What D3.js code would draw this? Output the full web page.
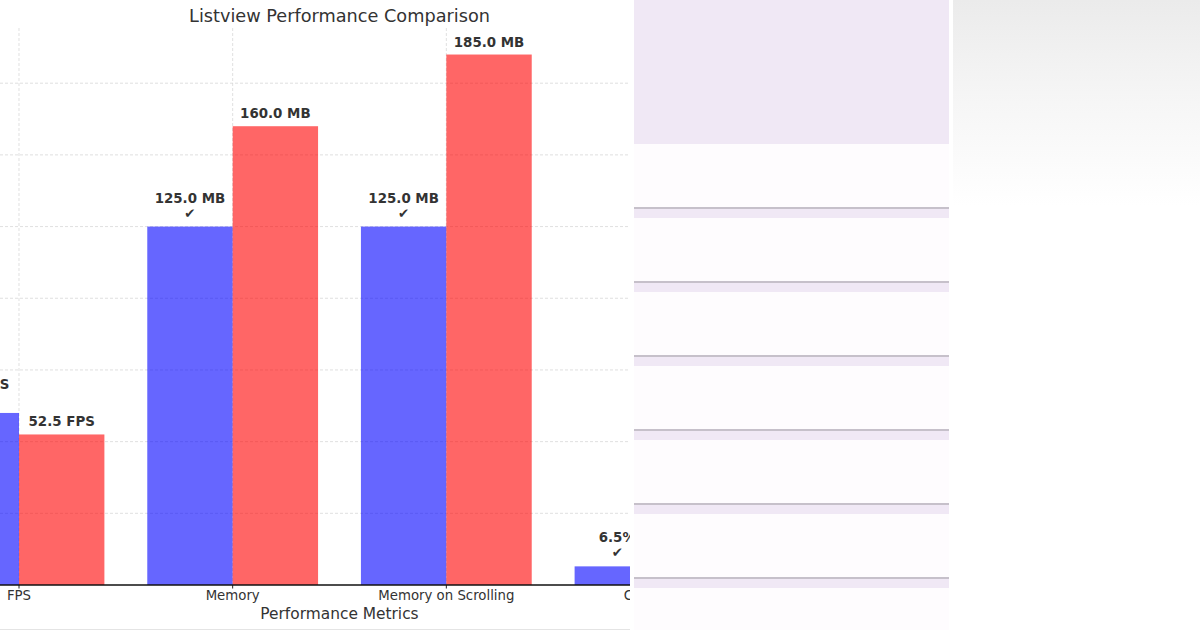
<!DOCTYPE html>
<html>
<head>
<meta charset="utf-8">
<script src="https://cdn.jsdelivr.net/npm/d3@7"></script>
<style>
  html, body { margin: 0; padding: 0; background: #fff; }
  svg { display: block; font-family: "DejaVu Sans", sans-serif; }
</style>
</head>
<body>
<svg id="chart"></svg>
<script>
const categories = ["FPS", "Memory", "Memory on Scrolling", "CPU Usage"];
// 4th red bar sits behind the panel, so it has no readable value
const blueValues = [60, 125, 125, 6.5];
const redValues = [52.5, 160, 185, null];
const blueLabels = ["60.0 FPS", "125.0 MB", "125.0 MB", "6.5%"];
const redLabels = ["52.5 FPS", "160.0 MB", "185.0 MB", ""];
const yTicks = [0, 25, 50, 75, 100, 125, 150, 175];
const listRows = [0, 1, 2, 3, 4, 5];

const width = 1200;
const height = 630;
const chartRight = 630;
const barWidth = 85.4;
const textColor = "#333333";

const svg = d3.select("#chart").attr("width", width).attr("height", height);

const defs = svg.append("defs");
defs.append("clipPath")
  .attr("id", "chart-area")
  .append("rect")
  .attr("width", chartRight)
  .attr("height", height);

const fade = defs.append("linearGradient")
  .attr("id", "fade")
  .attr("x1", 0).attr("x2", 0).attr("y1", 0).attr("y2", 1);
fade.append("stop").attr("offset", "0%").attr("stop-color", "#ebebeb");
fade.append("stop").attr("offset", "45%").attr("stop-color", "#f5f5f5");
fade.append("stop").attr("offset", "100%").attr("stop-color", "#ffffff");

const x = d3.scalePoint().domain(categories).range([19, 660]);
const y = d3.scaleLinear().domain([0, 194.25]).range([585, 28]);

const chart = svg.append("g").attr("clip-path", "url(#chart-area)");

// Grid goes first, the bars are translucent so it shows through them
chart.selectAll(".grid-y")
  .data(yTicks.slice(1))
  .enter()
  .append("line")
  .attr("class", "grid-y")
  .attr("x1", 0)
  .attr("x2", chartRight)
  .attr("y1", (d) => y(d))
  .attr("y2", (d) => y(d))
  .attr("stroke", "#d2d2d2")
  .attr("stroke-dasharray", "3,2")
  .attr("stroke-width", 0.7);

chart.selectAll(".grid-x")
  .data(categories)
  .enter()
  .append("line")
  .attr("class", "grid-x")
  .attr("x1", (d) => x(d))
  .attr("x2", (d) => x(d))
  .attr("y1", y.range()[1])
  .attr("y2", y.range()[0])
  .attr("stroke", "#d2d2d2")
  .attr("stroke-dasharray", "3,2")
  .attr("stroke-width", 0.7);

const blueData = categories.map((c, i) => ({ c, value: blueValues[i], label: blueLabels[i] }));
const redData = categories
  .map((c, i) => ({ c, value: redValues[i], label: redLabels[i] }))
  .filter((d) => d.value !== null);

chart.selectAll(".bar-blue")
  .data(blueData)
  .enter()
  .append("rect")
  .attr("class", "bar-blue")
  .attr("x", (d) => x(d.c) - barWidth)
  .attr("y", (d) => y(d.value))
  .attr("width", barWidth)
  .attr("height", (d) => y(0) - y(d.value))
  .attr("fill", "#0000ff")
  .attr("fill-opacity", 0.6);

chart.selectAll(".bar-red")
  .data(redData)
  .enter()
  .append("rect")
  .attr("class", "bar-red")
  .attr("x", (d) => x(d.c))
  .attr("y", (d) => y(d.value))
  .attr("width", barWidth)
  .attr("height", (d) => y(0) - y(d.value))
  .attr("fill", "#ff0000")
  .attr("fill-opacity", 0.6);

const labelStyle = (sel) =>
  sel.attr("text-anchor", "middle")
    .attr("font-size", 13.4)
    .attr("font-weight", "bold")
    .attr("fill", textColor);

chart.selectAll(".label-blue")
  .data(blueData)
  .enter()
  .append("text")
  .attr("class", "label-blue")
  .attr("x", (d) => x(d.c) - barWidth / 2)
  .attr("y", (d) => y(d.value) - 24)
  .text((d) => d.label)
  .call(labelStyle);

chart.selectAll(".check")
  .data(blueData)
  .enter()
  .append("text")
  .attr("class", "check")
  .attr("x", (d) => x(d.c) - barWidth / 2)
  .attr("y", (d) => y(d.value) - 9)
  .text("\u2714")
  .call(labelStyle);

chart.selectAll(".label-red")
  .data(redData)
  .enter()
  .append("text")
  .attr("class", "label-red")
  .attr("x", (d) => x(d.c) + barWidth / 2)
  .attr("y", (d) => y(d.value) - 8)
  .text((d) => d.label)
  .call(labelStyle);

// Bottom axis
const xAxis = chart.append("g")
  .attr("transform", `translate(0,${y(0)})`)
  .call(d3.axisBottom(x).offset(0).tickSize(3.5).tickPadding(2));
xAxis.select(".domain").remove();
xAxis.selectAll("line").attr("stroke", "#222");
xAxis.selectAll("text")
  .attr("font-family", "DejaVu Sans")
  .attr("font-size", 13.3)
  .attr("fill", textColor);
chart.append("line")
  .attr("x1", 0)
  .attr("x2", chartRight)
  .attr("y1", y(0))
  .attr("y2", y(0))
  .attr("stroke", "#111")
  .attr("stroke-width", 1.4);

chart.append("line")
  .attr("x1", 0)
  .attr("x2", chartRight)
  .attr("y1", 629.5)
  .attr("y2", 629.5)
  .attr("stroke", "#e4e4e4");

svg.append("text")
  .attr("x", 339.5)
  .attr("y", 22)
  .attr("text-anchor", "middle")
  .attr("font-size", 17.7)
  .attr("fill", textColor)
  .text("Listview Performance Comparison");

svg.append("text")
  .attr("x", 339.5)
  .attr("y", 619)
  .attr("text-anchor", "middle")
  .attr("font-size", 15.4)
  .attr("fill", textColor)
  .text("Performance Metrics");

// Panel to the right of the chart
const panel = svg.append("g");
const rowY = d3.scaleLinear().domain([0, 1]).range([144, 218]);

panel.append("rect")
  .attr("x", 634).attr("y", 0)
  .attr("width", 315).attr("height", height)
  .attr("fill", "#fefcfe");

panel.append("rect")
  .attr("x", 634).attr("y", 0)
  .attr("width", 315).attr("height", rowY(0))
  .attr("fill", "#f0e8f5");

panel.selectAll(".row-band")
  .data(listRows)
  .enter()
  .append("rect")
  .attr("class", "row-band")
  .attr("x", 634)
  .attr("y", (d) => rowY(d + 1) - 10)
  .attr("width", 315)
  .attr("height", 10)
  .attr("fill", "#f0e8f5");

panel.selectAll(".row-line")
  .data(listRows)
  .enter()
  .append("rect")
  .attr("class", "row-line")
  .attr("x", 634)
  .attr("y", (d) => rowY(d + 1) - 11)
  .attr("width", 315)
  .attr("height", 2)
  .attr("fill", "#c6c0ca");

svg.append("rect")
  .attr("x", 953)
  .attr("y", 0)
  .attr("width", 247)
  .attr("height", 205)
  .attr("fill", "url(#fade)");
</script>
</body>
</html>
